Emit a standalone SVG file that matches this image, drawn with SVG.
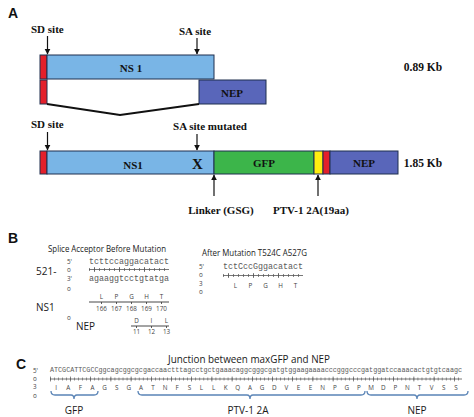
<svg xmlns="http://www.w3.org/2000/svg" width="474" height="417" viewBox="0 0 474 417">
<defs>
<marker id="ah" viewBox="0 0 10 10" refX="9" refY="5" markerWidth="6" markerHeight="7" markerUnits="userSpaceOnUse" orient="auto"><path d="M0,0 L10,5 L0,10 z" fill="#111"/></marker>
<style>
.pl{font-family:"Liberation Sans",Arial,sans-serif;font-weight:bold;font-size:14px;fill:#111}
.sb{font-family:"Liberation Serif","Times New Roman",serif;font-weight:bold;fill:#111}
.box{stroke:#1f2f4f;stroke-width:1}
.arr{stroke:#111;stroke-width:1.2;fill:none;marker-end:url(#ah)}
.ss{font-family:"Open Sans","Noto Sans",sans-serif;fill:#1a1a1a}
.mono{font-family:"Liberation Mono","Courier New",monospace;fill:#5a5a5a}
.sm{font-family:"Open Sans","Noto Sans",sans-serif;fill:#444;font-size:6.3px}
.tk{stroke:#555;fill:none}
.br{stroke:#5a84b6;stroke-width:1.3;fill:none}
</style>
</defs>
<rect width="474" height="417" fill="#fff"/>

<!-- Panel A -->
<text class="pl" x="8" y="18">A</text>
<g id="labels-A">
<text class="sb" x="31" y="33" font-size="11">SD site</text>
<text class="sb" x="195" y="35" font-size="11" text-anchor="middle">SA site</text>
<text class="sb" x="423" y="71" font-size="11.5" text-anchor="middle">0.89 Kb</text>
<text class="sb" x="31" y="128" font-size="11">SD site</text>
<text class="sb" x="210" y="130" font-size="11" text-anchor="middle">SA site mutated</text>
<text class="sb" x="423" y="167" font-size="11.5" text-anchor="middle">1.85 Kb</text>
<text class="sb" x="221" y="214" font-size="11" text-anchor="middle">Linker (GSG)</text>
<text class="sb" x="311" y="214" font-size="11" text-anchor="middle">PTV-1 2A(19aa)</text>
</g>
<g id="row1">
<rect class="box" x="40" y="55" width="7" height="24" fill="#e3202b"/>
<rect class="box" x="47" y="55" width="167" height="24" fill="#79b5e6"/>
<text class="sb" x="131" y="72" font-size="11" text-anchor="middle">NS 1</text>
</g>
<g id="row2">
<rect class="box" x="40" y="80" width="7" height="24" fill="#e3202b"/>
<rect class="box" x="199" y="80" width="67" height="24" fill="#5966ba"/>
<text class="sb" x="232" y="97" font-size="11" text-anchor="middle" fill="#1a2050">NEP</text>
</g>
<g id="row3">
<rect class="box" x="40" y="151" width="7" height="23" fill="#e3202b"/>
<rect class="box" x="47" y="151" width="167" height="23" fill="#79b5e6"/>
<rect class="box" x="214" y="151" width="100" height="23" fill="#3cb54a"/>
<rect class="box" x="314" y="151" width="9" height="23" fill="#ffee10"/>
<rect class="box" x="323" y="151" width="7" height="23" fill="#e3202b"/>
<rect class="box" x="330" y="151" width="68" height="23" fill="#5966ba"/>
<text class="sb" x="133" y="169" font-size="11" text-anchor="middle" fill="#1a2050">NS1</text>
<text class="sb" x="197.5" y="169" font-size="15" text-anchor="middle">X</text>
<text class="sb" x="264" y="167" font-size="11" text-anchor="middle" fill="#143a18">GFP</text>
<text class="sb" x="364" y="167" font-size="11" text-anchor="middle" fill="#1a2050">NEP</text>
</g>
<g id="connectors-A">
<line class="arr" x1="47.5" y1="36" x2="47.5" y2="54"/>
<line class="arr" x1="197" y1="38" x2="197" y2="54"/>
<polyline points="47,104 120,115 199,104" fill="none" stroke="#111" stroke-width="2"/>
<line class="arr" x1="47.5" y1="132" x2="47.5" y2="150"/>
<line class="arr" x1="197" y1="134" x2="197" y2="150"/>
<line class="arr" x1="214" y1="196" x2="214" y2="175"/>
<line class="arr" x1="318" y1="196" x2="318" y2="175"/>
</g>

<!-- Panel B -->
<text class="pl" x="8" y="243">B</text>
<g id="before">
<text class="ss" x="48" y="252" font-size="8.3" textLength="118" lengthAdjust="spacingAndGlyphs">Splice Acceptor  Before Mutation</text>
<text class="ss" x="36" y="275" font-size="10">521-</text>
<g class="sm" font-size="5.5">
<text x="67" y="264">5'</text><text x="67" y="272">o</text><text x="67" y="281">3'</text><text x="67" y="291">o</text>
</g>
<text class="mono" x="89" y="264" font-size="8.3" textLength="80" lengthAdjust="spacingAndGlyphs">tcttccaggacatact</text>
<line class="tk" x1="89" y1="269.5" x2="169" y2="269.5" stroke-width="0.8"/>
<line class="tk" x1="89" y1="269.5" x2="169" y2="269.5" stroke-width="3" stroke-dasharray="0.7 4.3"/>
<line class="tk" x1="89" y1="269.5" x2="169" y2="269.5" stroke-width="5" stroke-dasharray="0.7 24.3" stroke-dashoffset="-5"/>
<text class="mono" x="89" y="281" font-size="8.3" textLength="80" lengthAdjust="spacingAndGlyphs">agaaggtcctgtatga</text>
<text class="ss" x="36" y="311" font-size="10">NS1</text>
<text class="sm" x="101.5 116.5 131.5 146.5 161.5" y="299" text-anchor="middle">LPGHT</text>
<line x1="89" y1="302" x2="169" y2="302" stroke="#333" stroke-width="0.9"/>
<path d="M101.5,302v2M116.5,302v2M131.5,302v2M146.5,302v2M161.5,302v2" stroke="#333" stroke-width="0.8"/>
<g class="sm" font-size="5.2" text-anchor="middle">
<text x="101.5" y="311">166</text><text x="116.5" y="311">167</text><text x="131.5" y="311">168</text><text x="146.5" y="311">169</text><text x="161.5" y="311">170</text>
</g>
<text class="sm" x="67" y="320">o</text>
<text class="ss" x="76" y="330" font-size="10">NEP</text>
<text class="sm" x="136.5 151.5 166.5" y="323" text-anchor="middle">DIL</text>
<line x1="131" y1="326" x2="169" y2="326" stroke="#333" stroke-width="0.9"/>
<path d="M136.5,326v2M151.5,326v2M166.5,326v2" stroke="#333" stroke-width="0.8"/>
<g class="sm" font-size="5.2" text-anchor="middle">
<text x="136.5" y="334">11</text><text x="151.5" y="334">12</text><text x="166.5" y="334">13</text>
</g>
</g>
<g id="after">
<text class="ss" x="202" y="256" font-size="8.3" textLength="105" lengthAdjust="spacingAndGlyphs">After Mutation T524C A527G</text>
<g class="sm" font-size="5.5">
<text x="199" y="269">5'</text><text x="199" y="277">o</text><text x="199" y="285.5">3</text><text x="199" y="294">o</text>
</g>
<text class="mono" x="223" y="269" font-size="8.3" textLength="80" lengthAdjust="spacingAndGlyphs">tctCccGggacatact</text>
<line class="tk" x1="223" y1="275.5" x2="303" y2="275.5" stroke-width="0.8"/>
<line class="tk" x1="223" y1="275.5" x2="303" y2="275.5" stroke-width="3" stroke-dasharray="0.7 4.3"/>
<line class="tk" x1="223" y1="275.5" x2="303" y2="275.5" stroke-width="5" stroke-dasharray="0.7 24.3" stroke-dashoffset="-5"/>
<text class="sm" x="235.5 250.5 265.5 280.5 295.5" y="287.5" text-anchor="middle">LPGHT</text>
</g>

<!-- Panel C -->
<text class="pl" x="16" y="369">C</text>
<g id="junction">
<text class="ss" x="249" y="363" font-size="10.5" text-anchor="middle" textLength="162" lengthAdjust="spacingAndGlyphs">Junction between maxGFP and NEP</text>
<g class="sm" font-size="5.5">
<text x="33" y="373">5'</text><text x="33" y="381">o</text><text x="33" y="389">3</text><text x="33" y="397.5">o</text>
</g>
<text class="mono" x="50" y="372" font-size="6.7" textLength="412" lengthAdjust="spacingAndGlyphs">ATCGCATTCGCCggcagcggcgcgaccaactttagcctgctgaaacaggcgggcgatgtggaagaaaacccgggcccgatggatccaaacactgtgtcaagc</text>
<line class="tk" x1="50" y1="379" x2="462" y2="379" stroke-width="0.8"/>
<line class="tk" x1="50" y1="379" x2="462" y2="379" stroke-width="3" stroke-dasharray="0.6 3.44"/>
<line class="tk" x1="50" y1="379" x2="462" y2="379" stroke-width="5" stroke-dasharray="0.6 19.6"/>
<text class="sm" font-size="5.8" y="390" text-anchor="middle" x="56.1 68.2 80.3 92.4 104.5 116.7 128.8 140.9 153.0 165.1 177.2 189.4 201.5 213.6 225.7 237.8 249.9 262.1 274.2 286.3 298.4 310.5 322.6 334.8 346.9 359.0 371.1 383.2 395.3 407.4 419.6 431.7 443.8 455.9">IAFAGSGATNFSLLKQAGDVEENPGPMDPNTVSS</text>
</g>
<g id="bracket-gfp">
<path class="br" d="M51,391 q0,4 4,4 H71 q3,0 3,4 q0,-4 3,-4 H94 q4,0 4,-4"/>
<text class="ss" x="74" y="414" font-size="10" text-anchor="middle">GFP</text>
</g>
<g id="bracket-ptv">
<path class="br" d="M138,391 q0,4 4,4 H247 q3,0 3,4 q0,-4 3,-4 H361 q4,0 4,-4"/>
<text class="ss" x="248" y="414" font-size="10" text-anchor="middle">PTV-1 2A</text>
</g>
<g id="bracket-nep">
<path class="br" d="M367,391 q0,4 4,4 H414 q3,0 3,4 q0,-4 3,-4 H464 q4,0 4,-4"/>
<text class="ss" x="417" y="414" font-size="10" text-anchor="middle">NEP</text>
</g>
</svg>
